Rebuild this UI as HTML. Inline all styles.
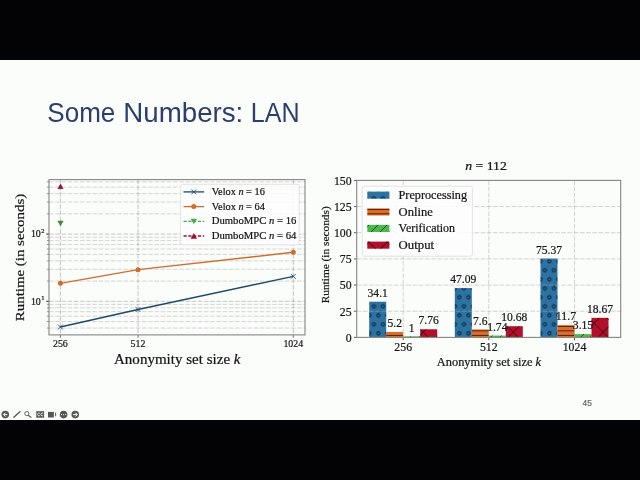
<!DOCTYPE html>
<html><head><meta charset="utf-8"><style>
html,body{margin:0;padding:0;width:640px;height:480px;overflow:hidden;background:#030305;}
#slide{position:absolute;left:0;top:60px;width:640px;height:360px;background:#fbfdfb;}
svg{position:absolute;left:0;top:0;will-change:transform;}
</style></head><body>
<div id="slide"></div>
<svg width="640" height="480" viewBox="0 0 640 480">
<defs>
<pattern id="pO" patternUnits="userSpaceOnUse" width="9" height="18" x="369.4" y="301.75"><g fill="none" stroke="#06121c" stroke-width="1"><circle cx="4.5" cy="4.5" r="1.65"/><circle cx="0" cy="13.5" r="1.65"/><circle cx="9" cy="13.5" r="1.65"/></g></pattern>
<pattern id="pH" patternUnits="userSpaceOnUse" width="9" height="4.5" x="0" y="330.4"><rect x="0" y="0" width="9" height="0.9" fill="#3a1a08"/></pattern>
<pattern id="pS" patternUnits="userSpaceOnUse" width="9" height="9" x="0" y="0"><path d="M-1,10L10,-1M-1,1L1,-1M8,10L10,8" stroke="#1a2a1a" stroke-width="0.8"/></pattern>
<pattern id="pX" patternUnits="userSpaceOnUse" width="18" height="18" x="0.9" y="0"><path d="M-2,-2L20,20M-2,18.4L18.4,-2M14.4,20L20,14.4" stroke="#2a0008" stroke-width="0.9"/></pattern>
</defs>
<g font-family="Liberation Sans, sans-serif" font-size="27.4" fill="#2c3e6d"><text x="47.3" y="121.8" textLength="68" lengthAdjust="spacingAndGlyphs">Some</text><text x="123.3" y="121.8" textLength="120" lengthAdjust="spacingAndGlyphs">Numbers:</text><text x="250.8" y="121.8" textLength="48.8" lengthAdjust="spacingAndGlyphs">LAN</text></g>
<line x1="49" x2="305" y1="328.04" y2="328.04" stroke="#a5a5a5" stroke-width="0.45" stroke-dasharray="4.6,1.6"/>
<line x1="47" x2="49" y1="328.04" y2="328.04" stroke="#444" stroke-width="0.6"/>
<line x1="49" x2="305" y1="321.53" y2="321.53" stroke="#a5a5a5" stroke-width="0.45" stroke-dasharray="4.6,1.6"/>
<line x1="47" x2="49" y1="321.53" y2="321.53" stroke="#444" stroke-width="0.6"/>
<line x1="49" x2="305" y1="316.21" y2="316.21" stroke="#a5a5a5" stroke-width="0.45" stroke-dasharray="4.6,1.6"/>
<line x1="47" x2="49" y1="316.21" y2="316.21" stroke="#444" stroke-width="0.6"/>
<line x1="49" x2="305" y1="311.71" y2="311.71" stroke="#a5a5a5" stroke-width="0.45" stroke-dasharray="4.6,1.6"/>
<line x1="47" x2="49" y1="311.71" y2="311.71" stroke="#444" stroke-width="0.6"/>
<line x1="49" x2="305" y1="307.81" y2="307.81" stroke="#a5a5a5" stroke-width="0.45" stroke-dasharray="4.6,1.6"/>
<line x1="47" x2="49" y1="307.81" y2="307.81" stroke="#444" stroke-width="0.6"/>
<line x1="49" x2="305" y1="304.37" y2="304.37" stroke="#a5a5a5" stroke-width="0.45" stroke-dasharray="4.6,1.6"/>
<line x1="47" x2="49" y1="304.37" y2="304.37" stroke="#444" stroke-width="0.6"/>
<line x1="49" x2="305" y1="301.3" y2="301.3" stroke="#9a9a9a" stroke-width="0.55" stroke-dasharray="4.6,1.6"/>
<line x1="47" x2="49" y1="301.3" y2="301.3" stroke="#444" stroke-width="0.6"/>
<line x1="49" x2="305" y1="281.07" y2="281.07" stroke="#a5a5a5" stroke-width="0.45" stroke-dasharray="4.6,1.6"/>
<line x1="47" x2="49" y1="281.07" y2="281.07" stroke="#444" stroke-width="0.6"/>
<line x1="49" x2="305" y1="269.24" y2="269.24" stroke="#a5a5a5" stroke-width="0.45" stroke-dasharray="4.6,1.6"/>
<line x1="47" x2="49" y1="269.24" y2="269.24" stroke="#444" stroke-width="0.6"/>
<line x1="49" x2="305" y1="260.84" y2="260.84" stroke="#a5a5a5" stroke-width="0.45" stroke-dasharray="4.6,1.6"/>
<line x1="47" x2="49" y1="260.84" y2="260.84" stroke="#444" stroke-width="0.6"/>
<line x1="49" x2="305" y1="254.33" y2="254.33" stroke="#a5a5a5" stroke-width="0.45" stroke-dasharray="4.6,1.6"/>
<line x1="47" x2="49" y1="254.33" y2="254.33" stroke="#444" stroke-width="0.6"/>
<line x1="49" x2="305" y1="249.01" y2="249.01" stroke="#a5a5a5" stroke-width="0.45" stroke-dasharray="4.6,1.6"/>
<line x1="47" x2="49" y1="249.01" y2="249.01" stroke="#444" stroke-width="0.6"/>
<line x1="49" x2="305" y1="244.51" y2="244.51" stroke="#a5a5a5" stroke-width="0.45" stroke-dasharray="4.6,1.6"/>
<line x1="47" x2="49" y1="244.51" y2="244.51" stroke="#444" stroke-width="0.6"/>
<line x1="49" x2="305" y1="240.61" y2="240.61" stroke="#a5a5a5" stroke-width="0.45" stroke-dasharray="4.6,1.6"/>
<line x1="47" x2="49" y1="240.61" y2="240.61" stroke="#444" stroke-width="0.6"/>
<line x1="49" x2="305" y1="237.17" y2="237.17" stroke="#a5a5a5" stroke-width="0.45" stroke-dasharray="4.6,1.6"/>
<line x1="47" x2="49" y1="237.17" y2="237.17" stroke="#444" stroke-width="0.6"/>
<line x1="49" x2="305" y1="234.1" y2="234.1" stroke="#9a9a9a" stroke-width="0.55" stroke-dasharray="4.6,1.6"/>
<line x1="47" x2="49" y1="234.1" y2="234.1" stroke="#444" stroke-width="0.6"/>
<line x1="49" x2="305" y1="213.87" y2="213.87" stroke="#a5a5a5" stroke-width="0.45" stroke-dasharray="4.6,1.6"/>
<line x1="47" x2="49" y1="213.87" y2="213.87" stroke="#444" stroke-width="0.6"/>
<line x1="49" x2="305" y1="202.04" y2="202.04" stroke="#a5a5a5" stroke-width="0.45" stroke-dasharray="4.6,1.6"/>
<line x1="47" x2="49" y1="202.04" y2="202.04" stroke="#444" stroke-width="0.6"/>
<line x1="49" x2="305" y1="193.64" y2="193.64" stroke="#a5a5a5" stroke-width="0.45" stroke-dasharray="4.6,1.6"/>
<line x1="47" x2="49" y1="193.64" y2="193.64" stroke="#444" stroke-width="0.6"/>
<line x1="49" x2="305" y1="187.13" y2="187.13" stroke="#a5a5a5" stroke-width="0.45" stroke-dasharray="4.6,1.6"/>
<line x1="47" x2="49" y1="187.13" y2="187.13" stroke="#444" stroke-width="0.6"/>
<line x1="49" x2="305" y1="181.81" y2="181.81" stroke="#a5a5a5" stroke-width="0.45" stroke-dasharray="4.6,1.6"/>
<line x1="47" x2="49" y1="181.81" y2="181.81" stroke="#444" stroke-width="0.6"/>
<line x1="60.4" x2="60.4" y1="179.6" y2="334.9" stroke="#808080" stroke-width="0.45" stroke-dasharray="4.6,1.6"/>
<line x1="60.4" x2="60.4" y1="334.9" y2="337.7" stroke="#333" stroke-width="0.7"/>
<text x="60.4" y="346.9" font-family="Liberation Serif, serif" stroke="#151515" stroke-width="0.22" font-size="10.6" text-anchor="middle" fill="#151515" textLength="14.85" lengthAdjust="spacingAndGlyphs">256</text>
<line x1="138.03" x2="138.03" y1="179.6" y2="334.9" stroke="#808080" stroke-width="0.45" stroke-dasharray="4.6,1.6"/>
<line x1="138.03" x2="138.03" y1="334.9" y2="337.7" stroke="#333" stroke-width="0.7"/>
<text x="138.03" y="346.9" font-family="Liberation Serif, serif" stroke="#151515" stroke-width="0.22" font-size="10.6" text-anchor="middle" fill="#151515" textLength="14.85" lengthAdjust="spacingAndGlyphs">512</text>
<line x1="293.3" x2="293.3" y1="179.6" y2="334.9" stroke="#808080" stroke-width="0.45" stroke-dasharray="4.6,1.6"/>
<line x1="293.3" x2="293.3" y1="334.9" y2="337.7" stroke="#333" stroke-width="0.7"/>
<text x="293.3" y="346.9" font-family="Liberation Serif, serif" stroke="#151515" stroke-width="0.22" font-size="10.6" text-anchor="middle" fill="#151515" textLength="19.8" lengthAdjust="spacingAndGlyphs">1024</text>
<line x1="46" x2="49" y1="301.3" y2="301.3" stroke="#333" stroke-width="0.8"/>
<text x="40.8" y="304.6" font-family="Liberation Serif, serif" stroke="#151515" stroke-width="0.22" font-size="10.6" text-anchor="end" fill="#151515" textLength="9.9" lengthAdjust="spacingAndGlyphs">10</text>
<text x="41.2" y="300.2" font-family="Liberation Serif, serif" stroke="#151515" stroke-width="0.22" font-size="6.5" text-anchor="start" fill="#151515">1</text>
<line x1="46" x2="49" y1="234.1" y2="234.1" stroke="#333" stroke-width="0.8"/>
<text x="40.8" y="237.4" font-family="Liberation Serif, serif" stroke="#151515" stroke-width="0.22" font-size="10.6" text-anchor="end" fill="#151515" textLength="9.9" lengthAdjust="spacingAndGlyphs">10</text>
<text x="41.2" y="233" font-family="Liberation Serif, serif" stroke="#151515" stroke-width="0.22" font-size="6.5" text-anchor="start" fill="#151515">2</text>
<polyline points="60.4,327.04 138.03,309.54 293.3,276.36" fill="none" stroke="#1f4a66" stroke-width="1.5"/>
<path d="M58,324.64L62.8,329.44M58,329.44L62.8,324.64" stroke="#1f4a66" stroke-width="0.9"/>
<path d="M135.63,307.14L140.43,311.94M135.63,311.94L140.43,307.14" stroke="#1f4a66" stroke-width="0.9"/>
<path d="M290.9,273.96L295.7,278.76M290.9,278.76L295.7,273.96" stroke="#1f4a66" stroke-width="0.9"/>
<polyline points="60.4,283.35 138.03,269.63 293.3,252.3" fill="none" stroke="#cf6d2c" stroke-width="1.4"/>
<circle cx="60.4" cy="283.35" r="2.5" fill="#cf6d2c"/>
<circle cx="138.03" cy="269.63" r="2.5" fill="#cf6d2c"/>
<circle cx="293.3" cy="252.3" r="2.5" fill="#cf6d2c"/>
<path d="M57.8,221L63.2,221L60.5,225.8Z" fill="#3a8f3a" stroke="#2d6a2d" stroke-width="0.4"/>
<path d="M57.8,188.7L63.2,188.7L60.5,184Z" fill="#8c0f28" stroke="#6a0c1e" stroke-width="0.4"/>
<rect x="49" y="179.6" width="256" height="155.3" fill="none" stroke="#858585" stroke-width="1.1"/>
<rect x="180.6" y="184.3" width="118.6" height="60.6" rx="2" fill="#fcfdfc" fill-opacity="0.9" stroke="#dcdcdc" stroke-width="0.8"/>
<line x1="183.5" x2="204.2" y1="191.9" y2="191.9" stroke="#1f4a66" stroke-width="1.3"/>
<path d="M191.4,189.5L196.20000000000002,194.3M191.4,194.3L196.20000000000002,189.5" stroke="#1f4a66" stroke-width="0.9"/>
<text x="211.8" y="194.8" font-family="Liberation Serif, serif" stroke="#151515" stroke-width="0.22" font-size="10.5" fill="#151515" textLength="53" lengthAdjust="spacingAndGlyphs">Velox <tspan font-style="italic">n</tspan> = 16</text>
<line x1="183.5" x2="204.2" y1="206.6" y2="206.6" stroke="#cf6d2c" stroke-width="1.3"/>
<circle cx="193.8" cy="206.6" r="2.5" fill="#cf6d2c"/>
<text x="211.8" y="209.6" font-family="Liberation Serif, serif" stroke="#151515" stroke-width="0.22" font-size="10.5" fill="#151515" textLength="53" lengthAdjust="spacingAndGlyphs">Velox <tspan font-style="italic">n</tspan> = 64</text>
<line x1="183.5" x2="204.2" y1="221.3" y2="221.3" stroke="#45ad45" stroke-width="1.3" stroke-dasharray="3.2,1.6"/>
<path d="M190.60000000000002,218.8L197.0,218.8L193.8,224.3Z" fill="#45ad45"/>
<text x="211.8" y="224.3" font-family="Liberation Serif, serif" stroke="#151515" stroke-width="0.22" font-size="10.5" fill="#151515" textLength="84.5" lengthAdjust="spacingAndGlyphs">DumboMPC <tspan font-style="italic">n</tspan> = 16</text>
<line x1="183.5" x2="204.2" y1="236" y2="236" stroke="#9c1030" stroke-width="1.3" stroke-dasharray="3.2,1.6"/>
<path d="M190.60000000000002,238.7L197.0,238.7L193.8,233Z" fill="#9c1030"/>
<text x="211.8" y="238.9" font-family="Liberation Serif, serif" stroke="#151515" stroke-width="0.22" font-size="10.5" fill="#151515" textLength="84.5" lengthAdjust="spacingAndGlyphs">DumboMPC <tspan font-style="italic">n</tspan> = 64</text>
<text x="114" y="363.6" font-family="Liberation Serif, serif" stroke="#151515" stroke-width="0.22" font-size="14.6" fill="#151515" textLength="126.5" lengthAdjust="spacingAndGlyphs">Anonymity set size <tspan font-style="italic">k</tspan></text>
<text transform="translate(23.8,257.5) rotate(-90)" font-family="Liberation Serif, serif" stroke="#151515" stroke-width="0.22" font-size="12.6" text-anchor="middle" fill="#151515" textLength="127.4" lengthAdjust="spacingAndGlyphs">Runtime (in seconds)</text>
<line x1="353.9" x2="356.7" y1="337.4" y2="337.4" stroke="#333" stroke-width="0.8"/>
<text x="351.6" y="341.7" font-family="Liberation Serif, serif" stroke="#151515" stroke-width="0.22" font-size="12.4" text-anchor="end" fill="#151515" textLength="5.9" lengthAdjust="spacingAndGlyphs">0</text>
<line x1="353.9" x2="356.7" y1="311.23" y2="311.23" stroke="#333" stroke-width="0.8"/>
<text x="351.6" y="315.53" font-family="Liberation Serif, serif" stroke="#151515" stroke-width="0.22" font-size="12.4" text-anchor="end" fill="#151515" textLength="11.8" lengthAdjust="spacingAndGlyphs">25</text>
<line x1="353.9" x2="356.7" y1="285.07" y2="285.07" stroke="#333" stroke-width="0.8"/>
<text x="351.6" y="289.37" font-family="Liberation Serif, serif" stroke="#151515" stroke-width="0.22" font-size="12.4" text-anchor="end" fill="#151515" textLength="11.8" lengthAdjust="spacingAndGlyphs">50</text>
<line x1="353.9" x2="356.7" y1="258.9" y2="258.9" stroke="#333" stroke-width="0.8"/>
<text x="351.6" y="263.2" font-family="Liberation Serif, serif" stroke="#151515" stroke-width="0.22" font-size="12.4" text-anchor="end" fill="#151515" textLength="11.8" lengthAdjust="spacingAndGlyphs">75</text>
<line x1="353.9" x2="356.7" y1="232.73" y2="232.73" stroke="#333" stroke-width="0.8"/>
<text x="351.6" y="237.03" font-family="Liberation Serif, serif" stroke="#151515" stroke-width="0.22" font-size="12.4" text-anchor="end" fill="#151515" textLength="17.7" lengthAdjust="spacingAndGlyphs">100</text>
<line x1="353.9" x2="356.7" y1="206.57" y2="206.57" stroke="#333" stroke-width="0.8"/>
<text x="351.6" y="210.87" font-family="Liberation Serif, serif" stroke="#151515" stroke-width="0.22" font-size="12.4" text-anchor="end" fill="#151515" textLength="17.7" lengthAdjust="spacingAndGlyphs">125</text>
<line x1="353.9" x2="356.7" y1="180.4" y2="180.4" stroke="#333" stroke-width="0.8"/>
<text x="351.6" y="184.7" font-family="Liberation Serif, serif" stroke="#151515" stroke-width="0.22" font-size="12.4" text-anchor="end" fill="#151515" textLength="17.7" lengthAdjust="spacingAndGlyphs">150</text>
<line x1="403.2" x2="403.2" y1="337.4" y2="340.2" stroke="#333" stroke-width="0.8"/>
<text x="403.2" y="351" font-family="Liberation Serif, serif" stroke="#151515" stroke-width="0.22" font-size="12.4" text-anchor="middle" fill="#151515" textLength="17.7" lengthAdjust="spacingAndGlyphs">256</text>
<line x1="488.8" x2="488.8" y1="337.4" y2="340.2" stroke="#333" stroke-width="0.8"/>
<text x="488.8" y="351" font-family="Liberation Serif, serif" stroke="#151515" stroke-width="0.22" font-size="12.4" text-anchor="middle" fill="#151515" textLength="17.7" lengthAdjust="spacingAndGlyphs">512</text>
<line x1="574.5" x2="574.5" y1="337.4" y2="340.2" stroke="#333" stroke-width="0.8"/>
<text x="574.5" y="351" font-family="Liberation Serif, serif" stroke="#151515" stroke-width="0.22" font-size="12.4" text-anchor="middle" fill="#151515" textLength="23.6" lengthAdjust="spacingAndGlyphs">1024</text>
<rect x="369.2" y="301.71" width="17" height="35.69" fill="#2c72a3"/>
<rect x="369.2" y="301.71" width="17" height="35.69" fill="url(#pO)"/>
<rect x="386.2" y="331.96" width="17" height="5.44" fill="#df6c26"/>
<rect x="386.2" y="331.96" width="17" height="5.44" fill="url(#pH)"/>
<rect x="403.2" y="336.35" width="17" height="1.05" fill="#4cb94c"/>
<rect x="403.2" y="336.35" width="17" height="1.05" fill="url(#pS)"/>
<rect x="420.2" y="329.28" width="17" height="8.12" fill="#b20f2d"/>
<rect x="420.2" y="329.28" width="17" height="8.12" fill="url(#pX)"/>
<rect x="454.8" y="288.11" width="17" height="49.29" fill="#2c72a3"/>
<rect x="454.8" y="288.11" width="17" height="49.29" fill="url(#pO)"/>
<rect x="471.8" y="329.45" width="17" height="7.95" fill="#df6c26"/>
<rect x="471.8" y="329.45" width="17" height="7.95" fill="url(#pH)"/>
<rect x="488.8" y="335.58" width="17" height="1.82" fill="#4cb94c"/>
<rect x="488.8" y="335.58" width="17" height="1.82" fill="url(#pS)"/>
<rect x="505.8" y="326.22" width="17" height="11.18" fill="#b20f2d"/>
<rect x="505.8" y="326.22" width="17" height="11.18" fill="url(#pX)"/>
<rect x="540.5" y="258.51" width="17" height="78.89" fill="#2c72a3"/>
<rect x="540.5" y="258.51" width="17" height="78.89" fill="url(#pO)"/>
<rect x="557.5" y="325.15" width="17" height="12.25" fill="#df6c26"/>
<rect x="557.5" y="325.15" width="17" height="12.25" fill="url(#pH)"/>
<rect x="574.5" y="334.1" width="17" height="3.3" fill="#4cb94c"/>
<rect x="574.5" y="334.1" width="17" height="3.3" fill="url(#pS)"/>
<rect x="591.5" y="317.86" width="17" height="19.54" fill="#b20f2d"/>
<rect x="591.5" y="317.86" width="17" height="19.54" fill="url(#pX)"/>
<line x1="356.7" x2="620.7" y1="311.23" y2="311.23" stroke="#a8a8a8" stroke-width="0.5" stroke-dasharray="4.6,1.6"/>
<line x1="356.7" x2="620.7" y1="285.07" y2="285.07" stroke="#a8a8a8" stroke-width="0.5" stroke-dasharray="4.6,1.6"/>
<line x1="356.7" x2="620.7" y1="258.9" y2="258.9" stroke="#a8a8a8" stroke-width="0.5" stroke-dasharray="4.6,1.6"/>
<line x1="356.7" x2="620.7" y1="232.73" y2="232.73" stroke="#a8a8a8" stroke-width="0.5" stroke-dasharray="4.6,1.6"/>
<line x1="356.7" x2="620.7" y1="206.57" y2="206.57" stroke="#a8a8a8" stroke-width="0.5" stroke-dasharray="4.6,1.6"/>
<line x1="403.2" x2="403.2" y1="180.4" y2="337.4" stroke="#a8a8a8" stroke-width="0.5" stroke-dasharray="4.6,1.6"/>
<line x1="488.8" x2="488.8" y1="180.4" y2="337.4" stroke="#a8a8a8" stroke-width="0.5" stroke-dasharray="4.6,1.6"/>
<line x1="574.5" x2="574.5" y1="180.4" y2="337.4" stroke="#a8a8a8" stroke-width="0.5" stroke-dasharray="4.6,1.6"/>
<text x="377.7" y="296.91" font-family="Liberation Serif, serif" stroke="#151515" stroke-width="0.22" font-size="12.6" text-anchor="middle" fill="#151515" textLength="20.3" lengthAdjust="spacingAndGlyphs">34.1</text>
<text x="394.7" y="327.16" font-family="Liberation Serif, serif" stroke="#151515" stroke-width="0.22" font-size="12.6" text-anchor="middle" fill="#151515" textLength="14.5" lengthAdjust="spacingAndGlyphs">5.2</text>
<text x="411.7" y="331.55" font-family="Liberation Serif, serif" stroke="#151515" stroke-width="0.22" font-size="12.6" text-anchor="middle" fill="#151515" textLength="5.8" lengthAdjust="spacingAndGlyphs">1</text>
<text x="428.7" y="324.48" font-family="Liberation Serif, serif" stroke="#151515" stroke-width="0.22" font-size="12.6" text-anchor="middle" fill="#151515" textLength="20.3" lengthAdjust="spacingAndGlyphs">7.76</text>
<text x="463.3" y="283.31" font-family="Liberation Serif, serif" stroke="#151515" stroke-width="0.22" font-size="12.6" text-anchor="middle" fill="#151515" textLength="26.1" lengthAdjust="spacingAndGlyphs">47.09</text>
<text x="480.3" y="324.65" font-family="Liberation Serif, serif" stroke="#151515" stroke-width="0.22" font-size="12.6" text-anchor="middle" fill="#151515" textLength="14.5" lengthAdjust="spacingAndGlyphs">7.6</text>
<text x="497.3" y="330.78" font-family="Liberation Serif, serif" stroke="#151515" stroke-width="0.22" font-size="12.6" text-anchor="middle" fill="#151515" textLength="20.3" lengthAdjust="spacingAndGlyphs">1.74</text>
<text x="514.3" y="321.42" font-family="Liberation Serif, serif" stroke="#151515" stroke-width="0.22" font-size="12.6" text-anchor="middle" fill="#151515" textLength="26.1" lengthAdjust="spacingAndGlyphs">10.68</text>
<text x="549" y="253.71" font-family="Liberation Serif, serif" stroke="#151515" stroke-width="0.22" font-size="12.6" text-anchor="middle" fill="#151515" textLength="26.1" lengthAdjust="spacingAndGlyphs">75.37</text>
<text x="566" y="320.35" font-family="Liberation Serif, serif" stroke="#151515" stroke-width="0.22" font-size="12.6" text-anchor="middle" fill="#151515" textLength="20.3" lengthAdjust="spacingAndGlyphs">11.7</text>
<text x="583" y="329.3" font-family="Liberation Serif, serif" stroke="#151515" stroke-width="0.22" font-size="12.6" text-anchor="middle" fill="#151515" textLength="20.3" lengthAdjust="spacingAndGlyphs">3.15</text>
<text x="600" y="313.06" font-family="Liberation Serif, serif" stroke="#151515" stroke-width="0.22" font-size="12.6" text-anchor="middle" fill="#151515" textLength="26.1" lengthAdjust="spacingAndGlyphs">18.67</text>
<rect x="356.7" y="180.4" width="264" height="157" fill="none" stroke="#858585" stroke-width="1.1"/>
<rect x="362.2" y="186.2" width="110.2" height="70" rx="2" fill="#fcfdfc" fill-opacity="0.9" stroke="#dcdcdc" stroke-width="0.8"/>
<rect x="367.3" y="191.6" width="22.1" height="7.1" fill="#2c72a3"/>
<rect x="367.3" y="191.6" width="22.1" height="7.1" fill="url(#pO)"/>
<text x="398.6" y="198.9" font-family="Liberation Serif, serif" stroke="#151515" stroke-width="0.22" font-size="11.6" fill="#151515" textLength="68.4" lengthAdjust="spacingAndGlyphs">Preprocessing</text>
<rect x="367.3" y="208.4" width="22.1" height="7.1" fill="#df6c26"/>
<rect x="367.3" y="208.4" width="22.1" height="7.1" fill="url(#pH)"/>
<text x="398.6" y="215.7" font-family="Liberation Serif, serif" stroke="#151515" stroke-width="0.22" font-size="11.6" fill="#151515" textLength="34.2" lengthAdjust="spacingAndGlyphs">Online</text>
<rect x="367.3" y="224.9" width="22.1" height="7.1" fill="#4cb94c"/>
<rect x="367.3" y="224.9" width="22.1" height="7.1" fill="url(#pS)"/>
<text x="398.6" y="232.2" font-family="Liberation Serif, serif" stroke="#151515" stroke-width="0.22" font-size="11.6" fill="#151515" textLength="56.5" lengthAdjust="spacingAndGlyphs">Verification</text>
<rect x="367.3" y="241.6" width="22.1" height="7.1" fill="#b20f2d"/>
<rect x="367.3" y="241.6" width="22.1" height="7.1" fill="url(#pX)"/>
<text x="398.6" y="248.9" font-family="Liberation Serif, serif" stroke="#151515" stroke-width="0.22" font-size="11.6" fill="#151515" textLength="35.5" lengthAdjust="spacingAndGlyphs">Output</text>
<text x="465.2" y="169.8" font-family="Liberation Serif, serif" stroke="#151515" stroke-width="0.22" font-size="11.8" fill="#151515" textLength="41.7" lengthAdjust="spacingAndGlyphs"><tspan font-style="italic">n</tspan> = 112</text>
<text x="436.8" y="365.8" font-family="Liberation Serif, serif" stroke="#151515" stroke-width="0.22" font-size="11.6" fill="#151515" textLength="104.3" lengthAdjust="spacingAndGlyphs">Anonymity set size <tspan font-style="italic">k</tspan></text>
<text transform="translate(329,254.8) rotate(-90)" font-family="Liberation Serif, serif" stroke="#151515" stroke-width="0.22" font-size="10.8" text-anchor="middle" fill="#151515" textLength="97" lengthAdjust="spacingAndGlyphs">Runtime (in seconds)</text>
<g>
<circle cx="5.3" cy="414.6" r="3.8" fill="#555"/>
<path d="M7.4,414.6H3.8M5.5,412.6L3.5,414.6L5.5,416.6" stroke="#fff" stroke-width="1" fill="none"/>
<path d="M13.8,417.2L19.6,412" stroke="#555" stroke-width="1.3" stroke-linecap="round"/>
<path d="M19.3,411.4L20.7,410.9L20.3,412.3Z" fill="#555"/>
<circle cx="26.8" cy="413.6" r="2.1" fill="none" stroke="#555" stroke-width="0.9"/>
<path d="M28.3,415.2L31.4,417.6" stroke="#555" stroke-width="1.2"/>
<rect x="36.3" y="411.2" width="7.8" height="6.5" fill="#555"/>
<path d="M39.9,413.3A1.5,1.4 0 1 0 39.9,415.6M43.2,413.3A1.5,1.4 0 1 0 43.2,415.6" stroke="#f4f4f4" stroke-width="0.9" fill="none"/>
<rect x="48" y="411.9" width="5.9" height="5.6" fill="#555"/>
<rect x="55.1" y="412.6" width="1" height="3.7" fill="#555"/>
<circle cx="63.6" cy="414.6" r="3.8" fill="#555"/>
<g fill="#fff"><circle cx="61.5" cy="414.6" r="0.55"/><circle cx="63.6" cy="414.6" r="0.55"/><circle cx="65.7" cy="414.6" r="0.55"/></g>
<circle cx="75.25" cy="414.6" r="3.8" fill="#555"/>
<path d="M73,414.6H77M75.4,412.7L77.3,414.6L75.4,416.5" stroke="#fff" stroke-width="1" fill="none"/>
</g>
<text x="582.6" y="405.9" font-family="Liberation Sans, sans-serif" font-size="8.3" fill="#666" stroke="#666" stroke-width="0.2">45</text>
</svg>
</body></html>
